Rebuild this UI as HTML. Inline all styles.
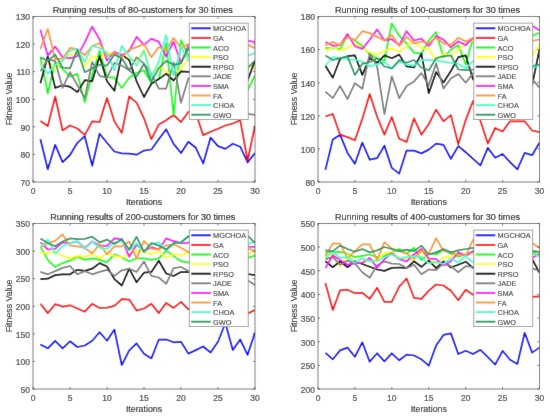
<!DOCTYPE html><html><head><meta charset="utf-8"><style>html,body{margin:0;padding:0;background:#fff;width:550px;height:420px;overflow:hidden}svg{display:block}text{font-family:"Liberation Sans",sans-serif}</style></head><body>
<svg width="550" height="420" viewBox="0 0 550 420">
<defs><filter id="bl" x="0" y="0" width="550" height="420" filterUnits="userSpaceOnUse"><feConvolveMatrix order="3" kernelMatrix="0 1 0 1 12 1 0 1 0" preserveAlpha="false" edgeMode="duplicate"/></filter></defs>
<rect width="550" height="420" fill="#fff"/><g filter="url(#bl)"><rect width="550" height="420" fill="#fff"/>
<clipPath id="c0"><rect x="33" y="16.5" width="222" height="165.5"/></clipPath>
<g clip-path="url(#c0)"><polyline points="40.4,139.2 47.8,169.3 55.2,144.8 62.6,162.1 70.0,155.0 77.4,142.8 84.8,136.2 92.2,165.7 99.6,133.7 107.0,142.8 114.4,151.5 121.8,153.3 129.2,153.6 136.6,154.7 144.0,150.6 151.4,149.5 158.8,139.2 166.2,129.3 173.6,143.9 181.0,153.0 188.4,141.7 195.8,147.8 203.2,163.5 210.6,137.6 218.0,146.1 225.4,148.9 232.8,143.7 240.2,146.7 247.6,162.5 255.0,153.0" fill="none" stroke="#0000ff" stroke-width="1.75" stroke-linejoin="round"/><polyline points="40.4,121.0 47.8,126.0 55.2,96.5 62.6,130.4 70.0,125.5 77.4,128.5 84.8,135.1 92.2,121.3 99.6,122.0 107.0,97.9 114.4,121.3 121.8,132.9 129.2,96.5 136.6,102.6 144.0,118.3 151.4,139.2 158.8,124.6 166.2,120.2 173.6,115.0 181.0,122.1 188.4,111.9 195.8,113.0 203.2,135.1 210.6,131.8 218.0,128.8 225.4,125.5 232.8,123.5 240.2,120.2 247.6,160.5 255.0,125.7" fill="none" stroke="#ff0000" stroke-width="1.75" stroke-linejoin="round"/><polyline points="40.4,57.3 47.8,93.5 55.2,62.0 62.6,68.9 70.0,76.6 77.4,73.9 84.8,102.3 92.2,74.4 99.6,50.7 107.0,77.2 114.4,77.7 121.8,87.9 129.2,77.7 136.6,73.0 144.0,70.3 151.4,83.3 158.8,79.1 166.2,43.5 173.6,115.0 181.0,40.2 188.4,55.7 195.8,77.2 203.2,82.7 210.6,74.4 218.0,79.9 225.4,77.2 232.8,71.7 240.2,79.9 247.6,90.4 255.0,75.5" fill="none" stroke="#00ff00" stroke-width="1.75" stroke-linejoin="round"/><polyline points="40.4,66.2 47.8,60.1 55.2,69.5 62.6,59.3 70.0,55.4 77.4,52.6 84.8,66.4 92.2,56.2 99.6,59.3 107.0,52.6 114.4,53.7 121.8,54.6 129.2,59.3 136.6,60.9 144.0,49.9 151.4,75.8 158.8,66.2 166.2,71.7 173.6,74.4 181.0,68.9 188.4,57.9 195.8,63.4 203.2,66.2 210.6,60.6 218.0,63.4 225.4,66.2 232.8,57.9 240.2,63.4 247.6,64.2 255.0,69.2" fill="none" stroke="#ffff00" stroke-width="1.75" stroke-linejoin="round"/><polyline points="40.4,83.3 47.8,56.2 55.2,87.9 62.6,85.2 70.0,86.8 77.4,92.1 84.8,80.2 92.2,81.3 99.6,56.2 107.0,81.3 114.4,90.7 121.8,54.6 129.2,60.1 136.6,81.3 144.0,97.0 151.4,83.8 158.8,79.1 166.2,73.6 173.6,80.5 181.0,71.4 188.4,71.9 195.8,71.7 203.2,68.9 210.6,74.4 218.0,66.2 225.4,71.7 232.8,74.4 240.2,68.9 247.6,80.5 255.0,60.6" fill="none" stroke="#000000" stroke-width="1.75" stroke-linejoin="round"/><polyline points="40.4,71.1 47.8,59.3 55.2,61.2 62.6,87.9 70.0,72.2 77.4,85.2 84.8,98.1 92.2,62.0 99.6,75.8 107.0,77.7 114.4,62.8 121.8,65.6 129.2,70.3 136.6,57.3 144.0,63.7 151.4,74.1 158.8,88.5 166.2,88.5 173.6,62.3 181.0,102.8 188.4,78.3 195.8,77.2 203.2,79.9 210.6,74.4 218.0,82.7 225.4,77.2 232.8,79.9 240.2,82.7 247.6,113.9 255.0,115.0" fill="none" stroke="#808080" stroke-width="1.75" stroke-linejoin="round"/><polyline points="40.4,29.7 47.8,55.4 55.2,46.6 62.6,57.3 70.0,58.4 77.4,56.2 84.8,42.4 92.2,26.7 99.6,39.4 107.0,60.6 114.4,51.8 121.8,55.4 129.2,51.0 136.6,36.9 144.0,44.9 151.4,38.6 158.8,41.9 166.2,56.5 173.6,41.9 181.0,62.8 188.4,45.5 195.8,49.6 203.2,46.8 210.6,44.1 218.0,49.6 225.4,41.3 232.8,46.8 240.2,44.1 247.6,40.8 255.0,42.0" fill="none" stroke="#ff00ff" stroke-width="1.75" stroke-linejoin="round"/><polyline points="40.4,49.0 47.8,28.9 55.2,59.3 62.6,58.4 70.0,47.9 77.4,49.0 84.8,55.4 92.2,46.0 99.6,43.3 107.0,56.5 114.4,52.9 121.8,57.3 129.2,49.6 136.6,47.1 144.0,44.1 151.4,57.3 158.8,47.1 166.2,50.4 173.6,38.0 181.0,47.7 188.4,44.1 195.8,52.4 203.2,49.6 210.6,46.8 218.0,44.1 225.4,49.6 232.8,46.8 240.2,41.3 247.6,44.6 255.0,48.2" fill="none" stroke="#ff9933" stroke-width="1.75" stroke-linejoin="round"/><polyline points="40.4,63.7 47.8,73.9 55.2,64.8 62.6,60.9 70.0,50.7 77.4,49.0 84.8,62.0 92.2,46.0 99.6,47.9 107.0,52.4 114.4,70.3 121.8,46.0 129.2,56.2 136.6,65.6 144.0,50.7 151.4,77.2 158.8,62.0 166.2,35.0 173.6,75.8 181.0,46.8 188.4,60.6 195.8,55.1 203.2,57.9 210.6,52.4 218.0,60.6 225.4,55.1 232.8,49.6 240.2,57.9 247.6,55.7 255.0,53.2" fill="none" stroke="#40ffcc" stroke-width="1.75" stroke-linejoin="round"/><polyline points="40.4,57.3 47.8,60.9 55.2,54.6 62.6,67.5 70.0,68.4 77.4,49.9 84.8,72.2 92.2,68.4 99.6,64.8 107.0,65.6 114.4,54.6 121.8,58.2 129.2,70.3 136.6,76.6 144.0,63.7 151.4,81.3 158.8,68.4 166.2,60.9 173.6,64.8 181.0,63.4 188.4,48.2 195.8,66.2 203.2,63.4 210.6,68.9 218.0,66.2 225.4,63.4 232.8,68.9 240.2,66.2 247.6,68.1 255.0,60.6" fill="none" stroke="#339966" stroke-width="1.75" stroke-linejoin="round"/></g>
<rect x="33" y="16.5" width="222" height="165.5" fill="none" stroke="#262626" stroke-width="0.8" opacity="0.75"/>
<path d="M33.00,182v-2.2M33.00,16.5v2.2M70.00,182v-2.2M70.00,16.5v2.2M107.00,182v-2.2M107.00,16.5v2.2M144.00,182v-2.2M144.00,16.5v2.2M181.00,182v-2.2M181.00,16.5v2.2M218.00,182v-2.2M218.00,16.5v2.2M255.00,182v-2.2M255.00,16.5v2.2M33,182.00h2.2M255,182.00h-2.2M33,154.42h2.2M255,154.42h-2.2M33,126.83h2.2M255,126.83h-2.2M33,99.25h2.2M255,99.25h-2.2M33,71.67h2.2M255,71.67h-2.2M33,44.08h2.2M255,44.08h-2.2M33,16.50h2.2M255,16.50h-2.2" stroke="#262626" stroke-width="0.8" opacity="0.75"/>
<text x="33.00" y="193.80" font-size="8.5" fill="#404040" stroke="#404040" stroke-width="0.2" text-anchor="middle">0</text>
<text x="70.00" y="193.80" font-size="8.5" fill="#404040" stroke="#404040" stroke-width="0.2" text-anchor="middle">5</text>
<text x="107.00" y="193.80" font-size="8.5" fill="#404040" stroke="#404040" stroke-width="0.2" text-anchor="middle">10</text>
<text x="144.00" y="193.80" font-size="8.5" fill="#404040" stroke="#404040" stroke-width="0.2" text-anchor="middle">15</text>
<text x="181.00" y="193.80" font-size="8.5" fill="#404040" stroke="#404040" stroke-width="0.2" text-anchor="middle">20</text>
<text x="218.00" y="193.80" font-size="8.5" fill="#404040" stroke="#404040" stroke-width="0.2" text-anchor="middle">25</text>
<text x="255.00" y="193.80" font-size="8.5" fill="#404040" stroke="#404040" stroke-width="0.2" text-anchor="middle">30</text>
<text x="30.00" y="185.80" font-size="8.5" fill="#404040" stroke="#404040" stroke-width="0.2" text-anchor="end">70</text>
<text x="30.00" y="158.22" font-size="8.5" fill="#404040" stroke="#404040" stroke-width="0.2" text-anchor="end">80</text>
<text x="30.00" y="130.63" font-size="8.5" fill="#404040" stroke="#404040" stroke-width="0.2" text-anchor="end">90</text>
<text x="30.00" y="103.05" font-size="8.5" fill="#404040" stroke="#404040" stroke-width="0.2" text-anchor="end">100</text>
<text x="30.00" y="75.47" font-size="8.5" fill="#404040" stroke="#404040" stroke-width="0.2" text-anchor="end">110</text>
<text x="30.00" y="47.88" font-size="8.5" fill="#404040" stroke="#404040" stroke-width="0.2" text-anchor="end">120</text>
<text x="30.00" y="20.30" font-size="8.5" fill="#404040" stroke="#404040" stroke-width="0.2" text-anchor="end">130</text>
<text x="144.00" y="204.50" font-size="8.8" fill="#262626" stroke="#262626" stroke-width="0.15" text-anchor="middle">Iterations</text>
<text transform="translate(11.80,98.95) rotate(-90)" x="0" y="0" font-size="8.8" fill="#262626" stroke="#262626" stroke-width="0.15" text-anchor="middle">Fitness Value</text>
<text x="142.70" y="12.90" font-size="9.05" fill="#111" stroke="#111" stroke-width="0.15" text-anchor="middle">Running results of 80-customers for 30 times</text>
<rect x="189.30" y="23.10" width="58.9" height="96.5" fill="#fff" stroke="#8c8c8c" stroke-width="0.8"/>
<path d="M191.30,28.30h19.5" stroke="#0000ff" stroke-width="1.9"/>
<text x="213.10" y="31.40" font-size="7.35" fill="#404040" stroke="#404040" stroke-width="0.15">MGCHOA</text>
<path d="M191.30,37.90h19.5" stroke="#ff0000" stroke-width="1.9"/>
<text x="213.10" y="41.00" font-size="7.35" fill="#404040" stroke="#404040" stroke-width="0.15">GA</text>
<path d="M191.30,47.50h19.5" stroke="#00ff00" stroke-width="1.9"/>
<text x="213.10" y="50.60" font-size="7.35" fill="#404040" stroke="#404040" stroke-width="0.15">ACO</text>
<path d="M191.30,57.10h19.5" stroke="#ffff00" stroke-width="1.9"/>
<text x="213.10" y="60.20" font-size="7.35" fill="#404040" stroke="#404040" stroke-width="0.15">PSO</text>
<path d="M191.30,66.70h19.5" stroke="#000000" stroke-width="1.9"/>
<text x="213.10" y="69.80" font-size="7.35" fill="#404040" stroke="#404040" stroke-width="0.15">RPSO</text>
<path d="M191.30,76.30h19.5" stroke="#808080" stroke-width="1.9"/>
<text x="213.10" y="79.40" font-size="7.35" fill="#404040" stroke="#404040" stroke-width="0.15">JADE</text>
<path d="M191.30,85.90h19.5" stroke="#ff00ff" stroke-width="1.9"/>
<text x="213.10" y="89.00" font-size="7.35" fill="#404040" stroke="#404040" stroke-width="0.15">SMA</text>
<path d="M191.30,95.50h19.5" stroke="#ff9933" stroke-width="1.9"/>
<text x="213.10" y="98.60" font-size="7.35" fill="#404040" stroke="#404040" stroke-width="0.15">FA</text>
<path d="M191.30,105.10h19.5" stroke="#40ffcc" stroke-width="1.9"/>
<text x="213.10" y="108.20" font-size="7.35" fill="#404040" stroke="#404040" stroke-width="0.15">CHOA</text>
<path d="M191.30,114.70h19.5" stroke="#339966" stroke-width="1.9"/>
<text x="213.10" y="117.80" font-size="7.35" fill="#404040" stroke="#404040" stroke-width="0.15">GWO</text>
<clipPath id="c1"><rect x="318" y="16.5" width="221.5" height="165.5"/></clipPath>
<g clip-path="url(#c1)"><polyline points="325.4,169.9 332.8,139.5 340.1,134.7 347.5,152.9 354.9,163.8 362.3,142.6 369.7,159.7 377.1,158.2 384.4,145.6 391.8,167.9 399.2,173.6 406.6,150.6 414.0,150.6 421.4,153.4 428.8,149.6 436.1,143.6 443.5,144.8 450.9,158.8 458.3,146.1 465.7,152.2 473.1,158.8 480.4,165.4 487.8,147.9 495.2,157.7 502.6,154.0 510.0,162.1 517.4,169.3 524.7,152.9 532.1,155.2 539.5,142.6" fill="none" stroke="#0000ff" stroke-width="1.75" stroke-linejoin="round"/><polyline points="325.4,116.5 332.8,114.0 340.1,134.7 347.5,137.1 354.9,140.3 362.3,118.9 369.7,94.1 377.1,116.5 384.4,134.7 391.8,117.0 399.2,138.8 406.6,141.9 414.0,118.4 421.4,134.7 428.8,124.1 436.1,109.7 443.5,121.3 450.9,115.1 458.3,144.3 465.7,120.1 473.1,100.9 480.4,120.8 487.8,143.6 495.2,128.0 502.6,131.5 510.0,121.3 517.4,121.3 524.7,121.3 532.1,130.5 539.5,132.2" fill="none" stroke="#ff0000" stroke-width="1.75" stroke-linejoin="round"/><polyline points="325.4,47.9 332.8,47.9 340.1,48.9 347.5,35.9 354.9,40.5 362.3,46.1 369.7,54.4 377.1,58.2 384.4,61.0 391.8,23.5 399.2,35.9 406.6,43.3 414.0,52.6 421.4,53.6 428.8,40.5 436.1,32.2 443.5,57.2 450.9,49.8 458.3,45.1 465.7,64.5 473.1,38.0 480.4,49.6 487.8,44.6 495.2,52.9 502.6,47.9 510.0,43.0 517.4,51.3 524.7,46.3 532.1,35.9 539.5,32.7" fill="none" stroke="#00ff00" stroke-width="1.75" stroke-linejoin="round"/><polyline points="325.4,50.8 332.8,47.1 340.1,50.8 347.5,47.9 354.9,43.3 362.3,47.9 369.7,52.6 377.1,54.4 384.4,50.8 391.8,48.4 399.2,51.8 406.6,46.1 414.0,41.5 421.4,47.9 428.8,48.9 436.1,60.0 443.5,53.6 450.9,56.4 458.3,49.8 465.7,43.8 473.1,39.7 480.4,52.9 487.8,49.6 495.2,54.6 502.6,47.9 510.0,51.3 517.4,52.9 524.7,49.6 532.1,55.6 539.5,45.1" fill="none" stroke="#ffff00" stroke-width="1.75" stroke-linejoin="round"/><polyline points="325.4,65.7 332.8,77.7 340.1,59.0 347.5,56.2 354.9,55.4 362.3,74.9 369.7,57.9 377.1,62.8 384.4,55.4 391.8,58.2 399.2,54.6 406.6,66.5 414.0,67.5 421.4,53.6 428.8,93.3 436.1,72.1 443.5,82.4 450.9,71.1 458.3,57.2 465.7,55.4 473.1,79.6 480.4,66.2 487.8,71.1 495.2,62.8 502.6,67.8 510.0,72.8 517.4,64.5 524.7,69.5 532.1,85.3 539.5,49.4" fill="none" stroke="#000000" stroke-width="1.75" stroke-linejoin="round"/><polyline points="325.4,91.6 332.8,98.1 340.1,86.0 347.5,99.1 354.9,83.2 362.3,88.8 369.7,53.6 377.1,66.5 384.4,114.1 391.8,76.4 399.2,98.1 406.6,86.0 414.0,81.4 421.4,73.1 428.8,85.2 436.1,63.5 443.5,88.5 450.9,78.6 458.3,73.9 465.7,82.7 473.1,73.1 480.4,82.7 487.8,87.7 495.2,77.7 502.6,84.4 510.0,79.4 517.4,86.0 524.7,81.0 532.1,79.1 539.5,87.8" fill="none" stroke="#808080" stroke-width="1.75" stroke-linejoin="round"/><polyline points="325.4,42.0 332.8,45.8 340.1,45.1 347.5,34.0 354.9,46.1 362.3,48.9 369.7,39.7 377.1,29.4 384.4,40.5 391.8,39.2 399.2,45.1 406.6,31.2 414.0,40.5 421.4,38.7 428.8,46.1 436.1,35.9 443.5,39.7 450.9,47.4 458.3,41.5 465.7,45.1 473.1,38.0 480.4,41.3 487.8,36.4 495.2,43.0 502.6,39.7 510.0,34.7 517.4,41.3 524.7,38.0 532.1,25.6 539.5,30.4" fill="none" stroke="#ff00ff" stroke-width="1.75" stroke-linejoin="round"/><polyline points="325.4,45.1 332.8,42.0 340.1,45.1 347.5,36.9 354.9,40.5 362.3,31.2 369.7,33.1 377.1,36.9 384.4,40.5 391.8,35.0 399.2,46.1 406.6,36.9 414.0,43.3 421.4,41.5 428.8,43.3 436.1,37.8 443.5,43.3 450.9,44.8 458.3,37.8 465.7,41.5 473.1,37.8 480.4,39.7 487.8,43.0 495.2,38.0 502.6,41.3 510.0,44.6 517.4,39.7 524.7,36.4 532.1,40.8 539.5,39.5" fill="none" stroke="#ff9933" stroke-width="1.75" stroke-linejoin="round"/><polyline points="325.4,65.7 332.8,57.2 340.1,58.2 347.5,59.5 354.9,59.5 362.3,61.8 369.7,66.6 377.1,64.3 384.4,61.8 391.8,68.5 399.2,61.8 406.6,64.7 414.0,65.7 421.4,60.0 428.8,60.0 436.1,60.4 443.5,61.8 450.9,62.8 458.3,63.8 465.7,68.3 473.1,61.2 480.4,66.2 487.8,64.5 495.2,67.8 502.6,62.8 510.0,66.2 517.4,64.5 524.7,67.8 532.1,68.0 539.5,65.5" fill="none" stroke="#40ffcc" stroke-width="1.75" stroke-linejoin="round"/><polyline points="325.4,55.4 332.8,60.0 340.1,58.2 347.5,56.4 354.9,74.9 362.3,63.8 369.7,62.0 377.1,58.2 384.4,66.5 391.8,68.5 399.2,60.0 406.6,62.8 414.0,60.0 421.4,67.5 428.8,70.3 436.1,58.2 443.5,56.4 450.9,55.4 458.3,69.5 465.7,70.1 473.1,69.5 480.4,66.2 487.8,69.5 495.2,64.5 502.6,67.8 510.0,66.2 517.4,69.5 524.7,64.5 532.1,66.2 539.5,64.5" fill="none" stroke="#339966" stroke-width="1.75" stroke-linejoin="round"/></g>
<rect x="318" y="16.5" width="221.5" height="165.5" fill="none" stroke="#262626" stroke-width="0.8" opacity="0.75"/>
<path d="M318.00,182v-2.2M318.00,16.5v2.2M354.92,182v-2.2M354.92,16.5v2.2M391.83,182v-2.2M391.83,16.5v2.2M428.75,182v-2.2M428.75,16.5v2.2M465.67,182v-2.2M465.67,16.5v2.2M502.58,182v-2.2M502.58,16.5v2.2M539.50,182v-2.2M539.50,16.5v2.2M318,182.00h2.2M539.5,182.00h-2.2M318,148.90h2.2M539.5,148.90h-2.2M318,115.80h2.2M539.5,115.80h-2.2M318,82.70h2.2M539.5,82.70h-2.2M318,49.60h2.2M539.5,49.60h-2.2M318,16.50h2.2M539.5,16.50h-2.2" stroke="#262626" stroke-width="0.8" opacity="0.75"/>
<text x="318.00" y="193.80" font-size="8.5" fill="#404040" stroke="#404040" stroke-width="0.2" text-anchor="middle">0</text>
<text x="354.92" y="193.80" font-size="8.5" fill="#404040" stroke="#404040" stroke-width="0.2" text-anchor="middle">5</text>
<text x="391.83" y="193.80" font-size="8.5" fill="#404040" stroke="#404040" stroke-width="0.2" text-anchor="middle">10</text>
<text x="428.75" y="193.80" font-size="8.5" fill="#404040" stroke="#404040" stroke-width="0.2" text-anchor="middle">15</text>
<text x="465.67" y="193.80" font-size="8.5" fill="#404040" stroke="#404040" stroke-width="0.2" text-anchor="middle">20</text>
<text x="502.58" y="193.80" font-size="8.5" fill="#404040" stroke="#404040" stroke-width="0.2" text-anchor="middle">25</text>
<text x="539.50" y="193.80" font-size="8.5" fill="#404040" stroke="#404040" stroke-width="0.2" text-anchor="middle">30</text>
<text x="315.00" y="185.80" font-size="8.5" fill="#404040" stroke="#404040" stroke-width="0.2" text-anchor="end">80</text>
<text x="315.00" y="152.70" font-size="8.5" fill="#404040" stroke="#404040" stroke-width="0.2" text-anchor="end">100</text>
<text x="315.00" y="119.60" font-size="8.5" fill="#404040" stroke="#404040" stroke-width="0.2" text-anchor="end">120</text>
<text x="315.00" y="86.50" font-size="8.5" fill="#404040" stroke="#404040" stroke-width="0.2" text-anchor="end">140</text>
<text x="315.00" y="53.40" font-size="8.5" fill="#404040" stroke="#404040" stroke-width="0.2" text-anchor="end">160</text>
<text x="315.00" y="20.30" font-size="8.5" fill="#404040" stroke="#404040" stroke-width="0.2" text-anchor="end">180</text>
<text x="428.75" y="204.50" font-size="8.8" fill="#262626" stroke="#262626" stroke-width="0.15" text-anchor="middle">Iterations</text>
<text transform="translate(296.80,98.95) rotate(-90)" x="0" y="0" font-size="8.8" fill="#262626" stroke="#262626" stroke-width="0.15" text-anchor="middle">Fitness Value</text>
<text x="427.45" y="12.90" font-size="9.05" fill="#111" stroke="#111" stroke-width="0.15" text-anchor="middle">Running results of 100-customers for 30 times</text>
<rect x="473.80" y="23.10" width="58.9" height="96.5" fill="#fff" stroke="#8c8c8c" stroke-width="0.8"/>
<path d="M475.80,28.30h19.5" stroke="#0000ff" stroke-width="1.9"/>
<text x="497.60" y="31.40" font-size="7.35" fill="#404040" stroke="#404040" stroke-width="0.15">MGCHOA</text>
<path d="M475.80,37.90h19.5" stroke="#ff0000" stroke-width="1.9"/>
<text x="497.60" y="41.00" font-size="7.35" fill="#404040" stroke="#404040" stroke-width="0.15">GA</text>
<path d="M475.80,47.50h19.5" stroke="#00ff00" stroke-width="1.9"/>
<text x="497.60" y="50.60" font-size="7.35" fill="#404040" stroke="#404040" stroke-width="0.15">ACO</text>
<path d="M475.80,57.10h19.5" stroke="#ffff00" stroke-width="1.9"/>
<text x="497.60" y="60.20" font-size="7.35" fill="#404040" stroke="#404040" stroke-width="0.15">PSO</text>
<path d="M475.80,66.70h19.5" stroke="#000000" stroke-width="1.9"/>
<text x="497.60" y="69.80" font-size="7.35" fill="#404040" stroke="#404040" stroke-width="0.15">RPSO</text>
<path d="M475.80,76.30h19.5" stroke="#808080" stroke-width="1.9"/>
<text x="497.60" y="79.40" font-size="7.35" fill="#404040" stroke="#404040" stroke-width="0.15">JADE</text>
<path d="M475.80,85.90h19.5" stroke="#ff00ff" stroke-width="1.9"/>
<text x="497.60" y="89.00" font-size="7.35" fill="#404040" stroke="#404040" stroke-width="0.15">SMA</text>
<path d="M475.80,95.50h19.5" stroke="#ff9933" stroke-width="1.9"/>
<text x="497.60" y="98.60" font-size="7.35" fill="#404040" stroke="#404040" stroke-width="0.15">FA</text>
<path d="M475.80,105.10h19.5" stroke="#40ffcc" stroke-width="1.9"/>
<text x="497.60" y="108.20" font-size="7.35" fill="#404040" stroke="#404040" stroke-width="0.15">CHOA</text>
<path d="M475.80,114.70h19.5" stroke="#339966" stroke-width="1.9"/>
<text x="497.60" y="117.80" font-size="7.35" fill="#404040" stroke="#404040" stroke-width="0.15">GWO</text>
<clipPath id="c2"><rect x="33" y="223.5" width="222" height="165.5"/></clipPath>
<g clip-path="url(#c2)"><polyline points="40.4,344.5 47.8,348.3 55.2,340.8 62.6,348.3 70.0,341.3 77.4,347.0 84.8,345.5 92.2,340.7 99.6,332.2 107.0,340.7 114.4,329.6 121.8,365.2 129.2,350.4 136.6,343.4 144.0,353.8 151.4,358.4 158.8,339.5 166.2,339.5 173.6,342.3 181.0,341.8 188.4,353.6 195.8,350.1 203.2,346.5 210.6,352.5 218.0,341.8 225.4,323.0 232.8,350.1 240.2,339.5 247.6,354.8 255.0,332.5" fill="none" stroke="#0000ff" stroke-width="1.75" stroke-linejoin="round"/><polyline points="40.4,303.8 47.8,313.1 55.2,304.2 62.6,306.7 70.0,305.3 77.4,308.5 84.8,311.7 92.2,303.8 99.6,308.0 107.0,307.6 114.4,305.9 121.8,299.1 129.2,299.6 136.6,310.6 144.0,308.5 151.4,303.7 158.8,313.1 166.2,302.9 173.6,307.9 181.0,301.9 188.4,309.3 195.8,306.2 203.2,308.5 210.6,304.6 218.0,307.4 225.4,303.5 232.8,306.2 240.2,307.9 247.6,313.6 255.0,310.1" fill="none" stroke="#ff0000" stroke-width="1.75" stroke-linejoin="round"/><polyline points="40.4,246.3 47.8,259.9 55.2,267.1 62.6,263.1 70.0,260.7 77.4,256.7 84.8,259.9 92.2,258.3 99.6,259.9 107.0,262.3 114.4,254.3 121.8,257.5 129.2,261.5 136.6,258.3 144.0,258.3 151.4,259.9 158.8,258.3 166.2,250.6 173.6,256.1 181.0,261.2 188.4,262.6 195.8,259.4 203.2,257.2 210.6,258.8 218.0,257.7 225.4,259.9 232.8,258.3 240.2,257.2 247.6,257.9 255.0,255.5" fill="none" stroke="#00ff00" stroke-width="1.75" stroke-linejoin="round"/><polyline points="40.4,253.5 47.8,252.7 55.2,251.9 62.6,255.9 70.0,258.3 77.4,255.9 84.8,256.7 92.2,254.3 99.6,258.3 107.0,253.3 114.4,255.9 121.8,257.5 129.2,254.3 136.6,251.1 144.0,251.9 151.4,254.3 158.8,251.1 166.2,257.5 173.6,254.3 181.0,254.9 188.4,253.2 195.8,255.5 203.2,254.4 210.6,253.3 218.0,254.9 225.4,253.8 232.8,255.5 240.2,254.4 247.6,255.5 255.0,250.0" fill="none" stroke="#ffff00" stroke-width="1.75" stroke-linejoin="round"/><polyline points="40.4,279.1 47.8,278.7 55.2,275.1 62.6,274.3 70.0,274.3 77.4,269.8 84.8,270.8 92.2,268.7 99.6,263.1 107.0,266.5 114.4,279.1 121.8,285.5 129.2,268.7 136.6,282.3 144.0,272.7 151.4,271.9 158.8,260.7 166.2,273.5 173.6,276.0 181.0,272.1 188.4,272.0 195.8,273.7 203.2,272.6 210.6,274.3 218.0,272.0 225.4,273.1 232.8,273.7 240.2,272.6 247.6,274.0 255.0,275.2" fill="none" stroke="#000000" stroke-width="1.75" stroke-linejoin="round"/><polyline points="40.4,271.9 47.8,274.3 55.2,271.1 62.6,267.9 70.0,266.0 77.4,274.3 84.8,271.1 92.2,274.3 99.6,271.9 107.0,269.8 114.4,275.9 121.8,270.3 129.2,268.7 136.6,271.9 144.0,261.5 151.4,275.9 158.8,277.5 166.2,283.9 173.6,268.2 181.0,267.0 188.4,270.9 195.8,272.0 203.2,269.8 210.6,273.1 218.0,270.4 225.4,271.5 232.8,272.6 240.2,270.9 247.6,280.2 255.0,285.0" fill="none" stroke="#808080" stroke-width="1.75" stroke-linejoin="round"/><polyline points="40.4,242.4 47.8,249.5 55.2,248.8 62.6,242.4 70.0,243.1 77.4,241.5 84.8,247.9 92.2,241.5 99.6,245.6 107.0,246.0 114.4,238.4 121.8,239.2 129.2,256.7 136.6,244.7 144.0,251.1 151.4,247.2 158.8,249.5 166.2,238.4 173.6,241.2 181.0,243.4 188.4,242.6 195.8,241.2 203.2,242.3 210.6,240.6 218.0,242.8 225.4,241.7 232.8,240.1 240.2,242.3 247.6,246.7 255.0,246.9" fill="none" stroke="#ff00ff" stroke-width="1.75" stroke-linejoin="round"/><polyline points="40.4,247.8 47.8,243.1 55.2,240.8 62.6,234.4 70.0,245.6 77.4,246.3 84.8,247.9 92.2,253.5 99.6,244.0 107.0,254.3 114.4,246.3 121.8,246.3 129.2,241.5 136.6,258.3 144.0,240.8 151.4,248.8 158.8,249.5 166.2,245.6 173.6,244.5 181.0,247.7 188.4,252.1 195.8,246.7 203.2,245.0 210.6,248.3 218.0,246.1 225.4,247.2 232.8,245.6 240.2,247.8 247.6,248.3 255.0,251.1" fill="none" stroke="#ff9933" stroke-width="1.75" stroke-linejoin="round"/><polyline points="40.4,247.2 47.8,239.5 55.2,253.5 62.6,246.3 70.0,243.1 77.4,241.1 84.8,248.8 92.2,241.5 99.6,247.9 107.0,248.8 114.4,242.4 121.8,240.8 129.2,250.4 136.6,243.1 144.0,251.9 151.4,244.0 158.8,242.4 166.2,250.3 173.6,243.7 181.0,242.6 188.4,235.6 195.8,244.5 203.2,246.7 210.6,245.0 218.0,246.1 225.4,244.5 232.8,245.6 240.2,246.7 247.6,244.5 255.0,241.2" fill="none" stroke="#40ffcc" stroke-width="1.75" stroke-linejoin="round"/><polyline points="40.4,238.4 47.8,243.1 55.2,246.3 62.6,241.5 70.0,238.4 77.4,239.2 84.8,238.8 92.2,236.7 99.6,242.4 107.0,239.6 114.4,243.9 121.8,239.2 129.2,249.5 136.6,236.8 144.0,251.9 151.4,243.1 158.8,245.6 166.2,249.5 173.6,243.1 181.0,242.3 188.4,236.5 195.8,241.2 203.2,240.1 210.6,242.3 218.0,238.9 225.4,240.6 232.8,239.5 240.2,241.7 247.6,235.6 255.0,243.0" fill="none" stroke="#339966" stroke-width="1.75" stroke-linejoin="round"/></g>
<rect x="33" y="223.5" width="222" height="165.5" fill="none" stroke="#262626" stroke-width="0.8" opacity="0.75"/>
<path d="M33.00,389v-2.2M33.00,223.5v2.2M70.00,389v-2.2M70.00,223.5v2.2M107.00,389v-2.2M107.00,223.5v2.2M144.00,389v-2.2M144.00,223.5v2.2M181.00,389v-2.2M181.00,223.5v2.2M218.00,389v-2.2M218.00,223.5v2.2M255.00,389v-2.2M255.00,223.5v2.2M33,389.00h2.2M255,389.00h-2.2M33,361.42h2.2M255,361.42h-2.2M33,333.83h2.2M255,333.83h-2.2M33,306.25h2.2M255,306.25h-2.2M33,278.67h2.2M255,278.67h-2.2M33,251.08h2.2M255,251.08h-2.2M33,223.50h2.2M255,223.50h-2.2" stroke="#262626" stroke-width="0.8" opacity="0.75"/>
<text x="33.00" y="400.80" font-size="8.5" fill="#404040" stroke="#404040" stroke-width="0.2" text-anchor="middle">0</text>
<text x="70.00" y="400.80" font-size="8.5" fill="#404040" stroke="#404040" stroke-width="0.2" text-anchor="middle">5</text>
<text x="107.00" y="400.80" font-size="8.5" fill="#404040" stroke="#404040" stroke-width="0.2" text-anchor="middle">10</text>
<text x="144.00" y="400.80" font-size="8.5" fill="#404040" stroke="#404040" stroke-width="0.2" text-anchor="middle">15</text>
<text x="181.00" y="400.80" font-size="8.5" fill="#404040" stroke="#404040" stroke-width="0.2" text-anchor="middle">20</text>
<text x="218.00" y="400.80" font-size="8.5" fill="#404040" stroke="#404040" stroke-width="0.2" text-anchor="middle">25</text>
<text x="255.00" y="400.80" font-size="8.5" fill="#404040" stroke="#404040" stroke-width="0.2" text-anchor="middle">30</text>
<text x="30.00" y="392.80" font-size="8.5" fill="#404040" stroke="#404040" stroke-width="0.2" text-anchor="end">50</text>
<text x="30.00" y="365.22" font-size="8.5" fill="#404040" stroke="#404040" stroke-width="0.2" text-anchor="end">100</text>
<text x="30.00" y="337.63" font-size="8.5" fill="#404040" stroke="#404040" stroke-width="0.2" text-anchor="end">150</text>
<text x="30.00" y="310.05" font-size="8.5" fill="#404040" stroke="#404040" stroke-width="0.2" text-anchor="end">200</text>
<text x="30.00" y="282.47" font-size="8.5" fill="#404040" stroke="#404040" stroke-width="0.2" text-anchor="end">250</text>
<text x="30.00" y="254.88" font-size="8.5" fill="#404040" stroke="#404040" stroke-width="0.2" text-anchor="end">300</text>
<text x="30.00" y="227.30" font-size="8.5" fill="#404040" stroke="#404040" stroke-width="0.2" text-anchor="end">350</text>
<text x="144.00" y="411.50" font-size="8.8" fill="#262626" stroke="#262626" stroke-width="0.15" text-anchor="middle">Iterations</text>
<text transform="translate(11.80,305.95) rotate(-90)" x="0" y="0" font-size="8.8" fill="#262626" stroke="#262626" stroke-width="0.15" text-anchor="middle">Fitness Value</text>
<text x="142.70" y="219.90" font-size="9.05" fill="#111" stroke="#111" stroke-width="0.15" text-anchor="middle">Running results of 200-customers for 30 times</text>
<rect x="189.30" y="230.10" width="58.9" height="96.5" fill="#fff" stroke="#8c8c8c" stroke-width="0.8"/>
<path d="M191.30,235.30h19.5" stroke="#0000ff" stroke-width="1.9"/>
<text x="213.10" y="238.40" font-size="7.35" fill="#404040" stroke="#404040" stroke-width="0.15">MGCHOA</text>
<path d="M191.30,244.90h19.5" stroke="#ff0000" stroke-width="1.9"/>
<text x="213.10" y="248.00" font-size="7.35" fill="#404040" stroke="#404040" stroke-width="0.15">GA</text>
<path d="M191.30,254.50h19.5" stroke="#00ff00" stroke-width="1.9"/>
<text x="213.10" y="257.60" font-size="7.35" fill="#404040" stroke="#404040" stroke-width="0.15">ACO</text>
<path d="M191.30,264.10h19.5" stroke="#ffff00" stroke-width="1.9"/>
<text x="213.10" y="267.20" font-size="7.35" fill="#404040" stroke="#404040" stroke-width="0.15">PSO</text>
<path d="M191.30,273.70h19.5" stroke="#000000" stroke-width="1.9"/>
<text x="213.10" y="276.80" font-size="7.35" fill="#404040" stroke="#404040" stroke-width="0.15">RPSO</text>
<path d="M191.30,283.30h19.5" stroke="#808080" stroke-width="1.9"/>
<text x="213.10" y="286.40" font-size="7.35" fill="#404040" stroke="#404040" stroke-width="0.15">JADE</text>
<path d="M191.30,292.90h19.5" stroke="#ff00ff" stroke-width="1.9"/>
<text x="213.10" y="296.00" font-size="7.35" fill="#404040" stroke="#404040" stroke-width="0.15">SMA</text>
<path d="M191.30,302.50h19.5" stroke="#ff9933" stroke-width="1.9"/>
<text x="213.10" y="305.60" font-size="7.35" fill="#404040" stroke="#404040" stroke-width="0.15">FA</text>
<path d="M191.30,312.10h19.5" stroke="#40ffcc" stroke-width="1.9"/>
<text x="213.10" y="315.20" font-size="7.35" fill="#404040" stroke="#404040" stroke-width="0.15">CHOA</text>
<path d="M191.30,321.70h19.5" stroke="#339966" stroke-width="1.9"/>
<text x="213.10" y="324.80" font-size="7.35" fill="#404040" stroke="#404040" stroke-width="0.15">GWO</text>
<clipPath id="c3"><rect x="318" y="223.5" width="221.5" height="165.5"/></clipPath>
<g clip-path="url(#c3)"><polyline points="325.4,352.9 332.8,359.3 340.1,350.4 347.5,347.6 354.9,356.8 362.3,342.3 369.7,361.8 377.1,353.3 384.4,361.4 391.8,353.3 399.2,360.3 406.6,354.6 414.0,355.5 421.4,359.3 428.8,365.6 436.1,345.5 443.5,334.9 450.9,333.4 458.3,354.0 465.7,350.8 473.1,354.0 480.4,349.8 487.8,357.2 495.2,364.6 502.6,350.8 510.0,359.7 517.4,363.9 524.7,332.8 532.1,352.6 539.5,347.6" fill="none" stroke="#0000ff" stroke-width="1.75" stroke-linejoin="round"/><polyline points="325.4,283.0 332.8,310.1 340.1,290.3 347.5,289.7 354.9,293.2 362.3,292.8 369.7,298.9 377.1,287.7 384.4,301.9 391.8,301.9 399.2,286.6 406.6,278.5 414.0,297.8 421.4,298.9 428.8,290.6 436.1,284.5 443.5,285.5 450.9,290.8 458.3,300.2 465.7,289.7 473.1,294.9 480.4,285.0 487.8,288.8 495.2,292.1 502.6,287.3 510.0,290.6 517.4,293.5 524.7,289.7 532.1,296.8 539.5,296.3" fill="none" stroke="#ff0000" stroke-width="1.75" stroke-linejoin="round"/><polyline points="325.4,252.4 332.8,252.4 340.1,251.8 347.5,253.8 354.9,257.2 362.3,255.8 369.7,254.5 377.1,257.2 384.4,256.1 391.8,252.1 399.2,249.0 406.6,253.8 414.0,247.7 421.4,260.0 428.8,253.8 436.1,254.5 443.5,249.7 450.9,253.8 458.3,256.6 465.7,254.1 473.1,252.8 480.4,253.8 487.8,254.7 495.2,253.3 502.6,254.2 510.0,252.8 517.4,254.7 524.7,253.8 532.1,250.5 539.5,255.4" fill="none" stroke="#00ff00" stroke-width="1.75" stroke-linejoin="round"/><polyline points="325.4,259.2 332.8,253.8 340.1,266.8 347.5,254.5 354.9,262.7 362.3,262.7 369.7,260.6 377.1,260.0 384.4,253.1 391.8,251.9 399.2,257.9 406.6,258.6 414.0,260.0 421.4,251.1 428.8,260.0 436.1,263.4 443.5,257.2 450.9,257.9 458.3,252.4 465.7,254.7 473.1,253.8 480.4,257.5 487.8,258.5 495.2,256.6 502.6,258.0 510.0,257.1 517.4,258.5 524.7,257.5 532.1,256.6 539.5,252.8" fill="none" stroke="#ffff00" stroke-width="1.75" stroke-linejoin="round"/><polyline points="325.4,261.3 332.8,267.2 340.1,261.3 347.5,267.2 354.9,261.3 362.3,264.0 369.7,266.8 377.1,269.5 384.4,270.9 391.8,267.9 399.2,267.5 406.6,268.1 414.0,261.3 421.4,266.8 428.8,260.6 436.1,268.1 443.5,261.3 450.9,267.5 458.3,264.7 465.7,261.7 473.1,267.9 480.4,266.1 487.8,267.0 495.2,265.1 502.6,266.5 510.0,265.6 517.4,267.0 524.7,266.1 532.1,259.1 539.5,272.7" fill="none" stroke="#000000" stroke-width="1.75" stroke-linejoin="round"/><polyline points="325.4,259.2 332.8,257.2 340.1,264.7 347.5,260.6 354.9,263.4 362.3,272.2 369.7,277.7 377.1,265.4 384.4,261.3 391.8,263.7 399.2,264.0 406.6,268.1 414.0,264.7 421.4,274.3 428.8,269.5 436.1,270.2 443.5,263.4 450.9,266.1 458.3,272.2 465.7,266.1 473.1,267.0 480.4,265.1 487.8,268.4 495.2,266.1 502.6,267.5 510.0,266.5 517.4,267.9 524.7,267.0 532.1,268.4 539.5,270.8" fill="none" stroke="#808080" stroke-width="1.75" stroke-linejoin="round"/><polyline points="325.4,268.1 332.8,255.2 340.1,260.0 347.5,264.7 354.9,263.4 362.3,262.7 369.7,257.9 377.1,267.7 384.4,259.2 391.8,253.3 399.2,259.2 406.6,261.3 414.0,254.5 421.4,249.0 428.8,258.6 436.1,259.2 443.5,265.4 450.9,261.3 458.3,252.4 465.7,256.0 473.1,250.9 480.4,257.5 487.8,259.0 495.2,256.6 502.6,258.5 510.0,257.1 517.4,259.4 524.7,258.0 532.1,258.0 539.5,253.8" fill="none" stroke="#ff00ff" stroke-width="1.75" stroke-linejoin="round"/><polyline points="325.4,255.8 332.8,243.6 340.1,243.6 347.5,258.6 354.9,251.1 362.3,244.3 369.7,244.3 377.1,260.0 384.4,242.2 391.8,248.6 399.2,251.1 406.6,253.8 414.0,258.6 421.4,250.4 428.8,253.8 436.1,238.2 443.5,251.1 450.9,252.4 458.3,254.5 465.7,256.1 473.1,239.6 480.4,247.1 487.8,249.5 495.2,244.8 502.6,248.1 510.0,246.2 517.4,249.0 524.7,245.7 532.1,243.0 539.5,247.9" fill="none" stroke="#ff9933" stroke-width="1.75" stroke-linejoin="round"/><polyline points="325.4,257.2 332.8,251.8 340.1,257.9 347.5,257.2 354.9,262.7 362.3,258.6 369.7,261.3 377.1,261.3 384.4,257.2 391.8,254.5 399.2,258.6 406.6,257.2 414.0,256.6 421.4,257.2 428.8,263.4 436.1,262.0 443.5,264.0 450.9,258.6 458.3,262.7 465.7,256.1 473.1,262.3 480.4,260.4 487.8,261.3 495.2,259.4 502.6,260.9 510.0,259.9 517.4,261.3 524.7,260.4 532.1,253.3 539.5,256.6" fill="none" stroke="#40ffcc" stroke-width="1.75" stroke-linejoin="round"/><polyline points="325.4,250.4 332.8,251.1 340.1,245.6 347.5,249.0 354.9,251.8 362.3,249.0 369.7,252.4 377.1,250.4 384.4,247.0 391.8,249.0 399.2,251.1 406.6,249.7 414.0,251.1 421.4,245.6 428.8,254.5 436.1,252.4 443.5,249.0 450.9,252.4 458.3,250.4 465.7,249.0 473.1,247.8 480.4,250.0 487.8,249.0 495.2,250.9 502.6,249.5 510.0,250.5 517.4,248.6 524.7,250.0 532.1,250.9 539.5,251.9" fill="none" stroke="#339966" stroke-width="1.75" stroke-linejoin="round"/></g>
<rect x="318" y="223.5" width="221.5" height="165.5" fill="none" stroke="#262626" stroke-width="0.8" opacity="0.75"/>
<path d="M318.00,389v-2.2M318.00,223.5v2.2M354.92,389v-2.2M354.92,223.5v2.2M391.83,389v-2.2M391.83,223.5v2.2M428.75,389v-2.2M428.75,223.5v2.2M465.67,389v-2.2M465.67,223.5v2.2M502.58,389v-2.2M502.58,223.5v2.2M539.50,389v-2.2M539.50,223.5v2.2M318,389.00h2.2M539.5,389.00h-2.2M318,365.36h2.2M539.5,365.36h-2.2M318,341.71h2.2M539.5,341.71h-2.2M318,318.07h2.2M539.5,318.07h-2.2M318,294.43h2.2M539.5,294.43h-2.2M318,270.79h2.2M539.5,270.79h-2.2M318,247.14h2.2M539.5,247.14h-2.2M318,223.50h2.2M539.5,223.50h-2.2" stroke="#262626" stroke-width="0.8" opacity="0.75"/>
<text x="318.00" y="400.80" font-size="8.5" fill="#404040" stroke="#404040" stroke-width="0.2" text-anchor="middle">0</text>
<text x="354.92" y="400.80" font-size="8.5" fill="#404040" stroke="#404040" stroke-width="0.2" text-anchor="middle">5</text>
<text x="391.83" y="400.80" font-size="8.5" fill="#404040" stroke="#404040" stroke-width="0.2" text-anchor="middle">10</text>
<text x="428.75" y="400.80" font-size="8.5" fill="#404040" stroke="#404040" stroke-width="0.2" text-anchor="middle">15</text>
<text x="465.67" y="400.80" font-size="8.5" fill="#404040" stroke="#404040" stroke-width="0.2" text-anchor="middle">20</text>
<text x="502.58" y="400.80" font-size="8.5" fill="#404040" stroke="#404040" stroke-width="0.2" text-anchor="middle">25</text>
<text x="539.50" y="400.80" font-size="8.5" fill="#404040" stroke="#404040" stroke-width="0.2" text-anchor="middle">30</text>
<text x="315.00" y="392.80" font-size="8.5" fill="#404040" stroke="#404040" stroke-width="0.2" text-anchor="end">200</text>
<text x="315.00" y="369.16" font-size="8.5" fill="#404040" stroke="#404040" stroke-width="0.2" text-anchor="end">250</text>
<text x="315.00" y="345.51" font-size="8.5" fill="#404040" stroke="#404040" stroke-width="0.2" text-anchor="end">300</text>
<text x="315.00" y="321.87" font-size="8.5" fill="#404040" stroke="#404040" stroke-width="0.2" text-anchor="end">350</text>
<text x="315.00" y="298.23" font-size="8.5" fill="#404040" stroke="#404040" stroke-width="0.2" text-anchor="end">400</text>
<text x="315.00" y="274.59" font-size="8.5" fill="#404040" stroke="#404040" stroke-width="0.2" text-anchor="end">450</text>
<text x="315.00" y="250.94" font-size="8.5" fill="#404040" stroke="#404040" stroke-width="0.2" text-anchor="end">500</text>
<text x="315.00" y="227.30" font-size="8.5" fill="#404040" stroke="#404040" stroke-width="0.2" text-anchor="end">550</text>
<text x="428.75" y="411.50" font-size="8.8" fill="#262626" stroke="#262626" stroke-width="0.15" text-anchor="middle">Iterations</text>
<text transform="translate(296.80,305.95) rotate(-90)" x="0" y="0" font-size="8.8" fill="#262626" stroke="#262626" stroke-width="0.15" text-anchor="middle">Fitness Value</text>
<text x="427.45" y="219.90" font-size="9.05" fill="#111" stroke="#111" stroke-width="0.15" text-anchor="middle">Running results of 400-customers for 30 times</text>
<rect x="473.80" y="230.10" width="58.9" height="96.5" fill="#fff" stroke="#8c8c8c" stroke-width="0.8"/>
<path d="M475.80,235.30h19.5" stroke="#0000ff" stroke-width="1.9"/>
<text x="497.60" y="238.40" font-size="7.35" fill="#404040" stroke="#404040" stroke-width="0.15">MGCHOA</text>
<path d="M475.80,244.90h19.5" stroke="#ff0000" stroke-width="1.9"/>
<text x="497.60" y="248.00" font-size="7.35" fill="#404040" stroke="#404040" stroke-width="0.15">GA</text>
<path d="M475.80,254.50h19.5" stroke="#00ff00" stroke-width="1.9"/>
<text x="497.60" y="257.60" font-size="7.35" fill="#404040" stroke="#404040" stroke-width="0.15">ACO</text>
<path d="M475.80,264.10h19.5" stroke="#ffff00" stroke-width="1.9"/>
<text x="497.60" y="267.20" font-size="7.35" fill="#404040" stroke="#404040" stroke-width="0.15">PSO</text>
<path d="M475.80,273.70h19.5" stroke="#000000" stroke-width="1.9"/>
<text x="497.60" y="276.80" font-size="7.35" fill="#404040" stroke="#404040" stroke-width="0.15">RPSO</text>
<path d="M475.80,283.30h19.5" stroke="#808080" stroke-width="1.9"/>
<text x="497.60" y="286.40" font-size="7.35" fill="#404040" stroke="#404040" stroke-width="0.15">JADE</text>
<path d="M475.80,292.90h19.5" stroke="#ff00ff" stroke-width="1.9"/>
<text x="497.60" y="296.00" font-size="7.35" fill="#404040" stroke="#404040" stroke-width="0.15">SMA</text>
<path d="M475.80,302.50h19.5" stroke="#ff9933" stroke-width="1.9"/>
<text x="497.60" y="305.60" font-size="7.35" fill="#404040" stroke="#404040" stroke-width="0.15">FA</text>
<path d="M475.80,312.10h19.5" stroke="#40ffcc" stroke-width="1.9"/>
<text x="497.60" y="315.20" font-size="7.35" fill="#404040" stroke="#404040" stroke-width="0.15">CHOA</text>
<path d="M475.80,321.70h19.5" stroke="#339966" stroke-width="1.9"/>
<text x="497.60" y="324.80" font-size="7.35" fill="#404040" stroke="#404040" stroke-width="0.15">GWO</text>
</g></svg></body></html>
